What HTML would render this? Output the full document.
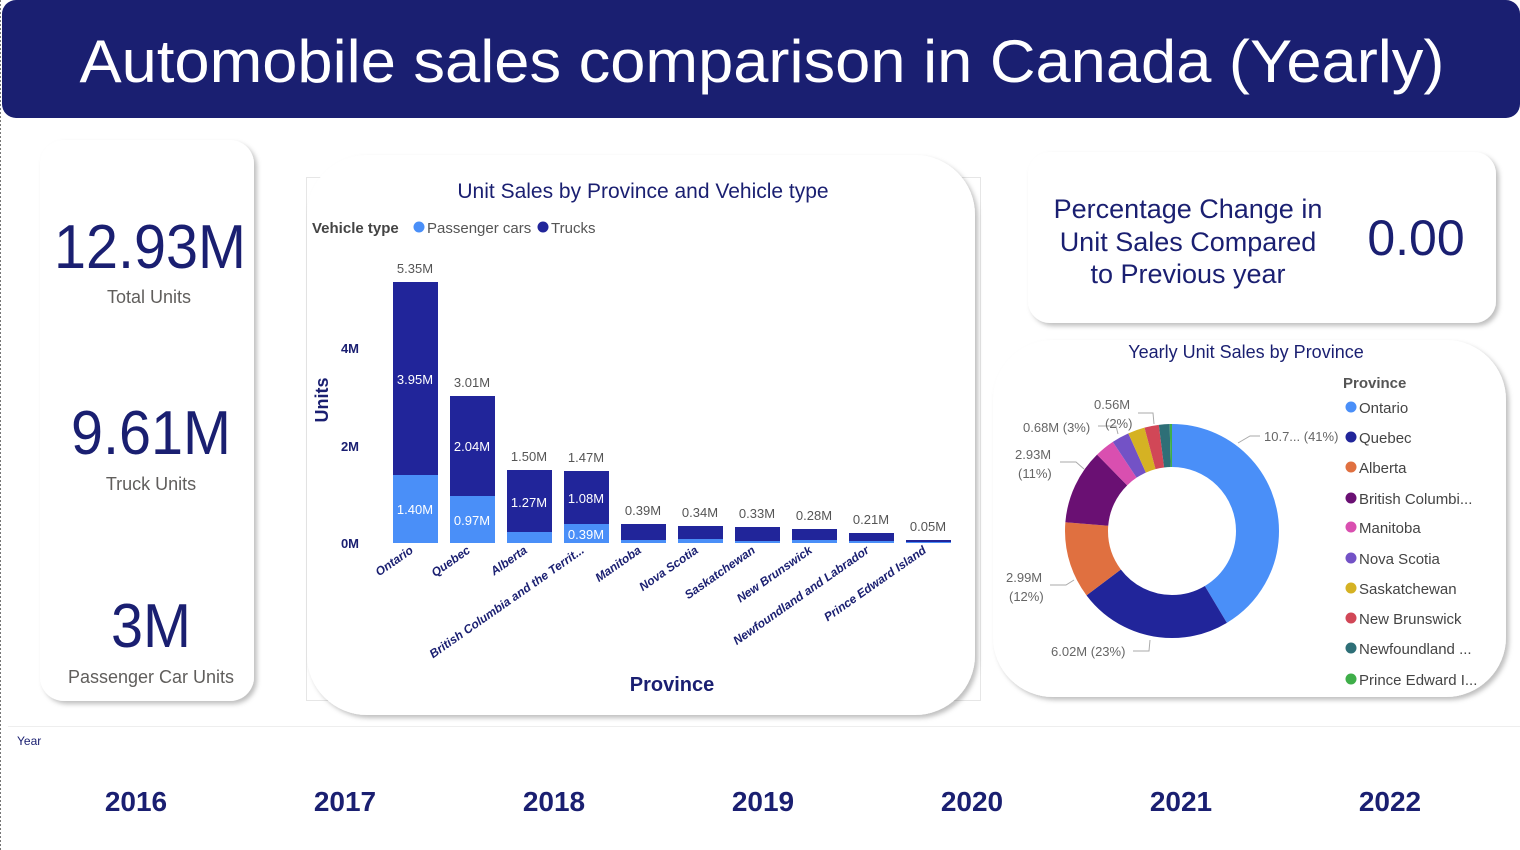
<!DOCTYPE html>
<html><head><meta charset="utf-8"><style>
html,body{margin:0;padding:0;background:#fff;width:1520px;height:850px;overflow:hidden}
svg{display:block;font-family:"Liberation Sans",sans-serif}
</style></head><body>
<svg width="1520" height="850" viewBox="0 0 1520 850">
<defs>
<filter id="sh" x="-10%" y="-10%" width="125%" height="125%"><feDropShadow dx="3" dy="3" stdDeviation="2.5" flood-color="#000" flood-opacity="0.25"/></filter>
</defs>
<line x1="0.5" y1="0" x2="0.5" y2="850" stroke="#777" stroke-dasharray="2,2"/>
<!-- header -->
<rect x="2" y="0" width="1518" height="118" rx="14" fill="#1a1f71"/>
<text x="762" y="82" text-anchor="middle" font-size="60" fill="#fff" textLength="1365" lengthAdjust="spacingAndGlyphs">Automobile sales comparison in Canada (Yearly)</text>

<!-- left card -->
<rect x="40" y="140" width="214" height="561" rx="24" fill="#fff" filter="url(#sh)"/>
<text x="150" y="268" text-anchor="middle" font-size="62" fill="#1a1f71" textLength="192" lengthAdjust="spacingAndGlyphs">12.93M</text>
<text x="149" y="303" text-anchor="middle" font-size="18" fill="#605e5c">Total Units</text>
<text x="151" y="454" text-anchor="middle" font-size="62" fill="#1a1f71" textLength="160" lengthAdjust="spacingAndGlyphs">9.61M</text>
<text x="151" y="490" text-anchor="middle" font-size="18" fill="#605e5c">Truck Units</text>
<text x="151" y="647" text-anchor="middle" font-size="62" fill="#1a1f71" textLength="80" lengthAdjust="spacingAndGlyphs">3M</text>
<text x="151" y="683" text-anchor="middle" font-size="18" fill="#605e5c">Passenger Car Units</text>

<!-- middle card -->
<rect x="306.5" y="177.5" width="674" height="523" fill="none" stroke="#e6e6e6"/>
<rect x="307" y="155" width="668" height="560" rx="60" fill="#fff" filter="url(#sh)"/>
<text x="643" y="198" text-anchor="middle" font-size="21" fill="#1a1f71">Unit Sales by Province and Vehicle type</text>
<text x="312" y="233" font-size="15" font-weight="bold" fill="#444">Vehicle type</text>
<circle cx="419" cy="227" r="5.5" fill="#4a8ff8"/><text x="427" y="233" font-size="15" fill="#555">Passenger cars</text>
<circle cx="543" cy="227" r="5.5" fill="#21259a"/><text x="551" y="233" font-size="15" fill="#555">Trucks</text>
<text x="328" y="400" font-size="18" font-weight="bold" fill="#1a1f71" transform="rotate(-90 328 400)" text-anchor="middle">Units</text>
<g font-size="13" font-weight="bold" fill="#1a1f71" text-anchor="end">
<text x="359" y="353">4M</text><text x="359" y="451">2M</text><text x="359" y="548">0M</text>
</g>
<g id="bars">
<!-- baseline 543, 48.75 px per M -->
<rect x="393" y="282" width="45" height="193" fill="#21259a"/><rect x="393" y="475" width="45" height="68" fill="#4a8ff8"/>
<rect x="450" y="396" width="45" height="100" fill="#21259a"/><rect x="450" y="496" width="45" height="47" fill="#4a8ff8"/>
<rect x="507" y="470" width="45" height="62" fill="#21259a"/><rect x="507" y="532" width="45" height="11" fill="#4a8ff8"/>
<rect x="564" y="471" width="45" height="53" fill="#21259a"/><rect x="564" y="524" width="45" height="19" fill="#4a8ff8"/>
<rect x="621" y="524" width="45" height="16" fill="#21259a"/><rect x="621" y="540" width="45" height="3" fill="#4a8ff8"/>
<rect x="678" y="526" width="45" height="13" fill="#21259a"/><rect x="678" y="539" width="45" height="4" fill="#4a8ff8"/>
<rect x="735" y="527" width="45" height="14" fill="#21259a"/><rect x="735" y="541" width="45" height="2" fill="#4a8ff8"/>
<rect x="792" y="529" width="45" height="11" fill="#21259a"/><rect x="792" y="540" width="45" height="3" fill="#4a8ff8"/>
<rect x="849" y="533" width="45" height="8" fill="#21259a"/><rect x="849" y="541" width="45" height="2" fill="#4a8ff8"/>
<rect x="906" y="540" width="45" height="2" fill="#21259a"/><rect x="906" y="542" width="45" height="1" fill="#4a8ff8"/>
</g>
<g font-size="13" fill="#555" text-anchor="middle">
<text x="415" y="273">5.35M</text><text x="472" y="387">3.01M</text><text x="529" y="461">1.50M</text><text x="586" y="462">1.47M</text>
<text x="643" y="515">0.39M</text><text x="700" y="517">0.34M</text><text x="757" y="518">0.33M</text><text x="814" y="520">0.28M</text><text x="871" y="524">0.21M</text><text x="928" y="531">0.05M</text>
</g>
<g font-size="13" fill="#fff" text-anchor="middle">
<text x="415" y="384">3.95M</text><text x="415" y="514">1.40M</text>
<text x="472" y="451">2.04M</text><text x="472" y="525">0.97M</text>
<text x="529" y="507">1.27M</text>
<text x="586" y="503">1.08M</text><text x="586" y="539">0.39M</text>
</g>
<g font-size="12" font-weight="bold" font-style="italic" fill="#1a1f71" text-anchor="end">
<text transform="translate(414 552) rotate(-35)">Ontario</text>
<text transform="translate(471 552) rotate(-35)">Quebec</text>
<text transform="translate(528 552) rotate(-35)">Alberta</text>
<text transform="translate(585 552) rotate(-35)">British Columbia and the Territ...</text>
<text transform="translate(642 552) rotate(-35)">Manitoba</text>
<text transform="translate(699 552) rotate(-35)">Nova Scotia</text>
<text transform="translate(756 552) rotate(-35)">Saskatchewan</text>
<text transform="translate(813 552) rotate(-35)">New Brunswick</text>
<text transform="translate(870 552) rotate(-35)">Newfoundland and Labrador</text>
<text transform="translate(927 552) rotate(-35)">Prince Edward Island</text>
</g>
<text x="672" y="691" text-anchor="middle" font-size="20" font-weight="bold" fill="#1a1f71">Province</text>

<!-- top-right card -->
<rect x="1028" y="152" width="468" height="171" rx="22" fill="#fff" filter="url(#sh)"/>
<g font-size="27" fill="#1a1f71" text-anchor="middle">
<text x="1188" y="218">Percentage Change in</text>
<text x="1188" y="251">Unit Sales Compared</text>
<text x="1188" y="283">to Previous year</text>
</g>
<text x="1416" y="255" text-anchor="middle" font-size="50" fill="#1a1f71">0.00</text>

<!-- donut card -->
<rect x="993" y="340" width="513" height="357" rx="60" fill="#fff" filter="url(#sh)"/>
<text x="1246" y="358" text-anchor="middle" font-size="18" fill="#1a1f71">Yearly Unit Sales by Province</text>
<g transform="rotate(-90 1172 531)" fill="none" stroke-width="43">
<circle cx="1172" cy="531" r="85.5" stroke="#4a8ff8" stroke-dasharray="222.45 537.21" stroke-dashoffset="0"/>
<circle cx="1172" cy="531" r="85.5" stroke="#21259a" stroke-dasharray="125.16 537.21" stroke-dashoffset="-222.45"/>
<circle cx="1172" cy="531" r="85.5" stroke="#e07040" stroke-dasharray="62.16 537.21" stroke-dashoffset="-347.61"/>
<circle cx="1172" cy="531" r="85.5" stroke="#6a1073" stroke-dasharray="60.91 537.21" stroke-dashoffset="-409.77"/>
<circle cx="1172" cy="531" r="85.5" stroke="#d94fb0" stroke-dasharray="16.22 537.21" stroke-dashoffset="-470.68"/>
<circle cx="1172" cy="531" r="85.5" stroke="#7352c6" stroke-dasharray="14.14 537.21" stroke-dashoffset="-486.90"/>
<circle cx="1172" cy="531" r="85.5" stroke="#d5b223" stroke-dasharray="13.72 537.21" stroke-dashoffset="-501.04"/>
<circle cx="1172" cy="531" r="85.5" stroke="#d14757" stroke-dasharray="11.64 537.21" stroke-dashoffset="-514.76"/>
<circle cx="1172" cy="531" r="85.5" stroke="#2e6f77" stroke-dasharray="8.73 537.21" stroke-dashoffset="-526.40"/>
<circle cx="1172" cy="531" r="85.5" stroke="#3fae49" stroke-dasharray="2.08 537.21" stroke-dashoffset="-535.13"/>
</g>
<g stroke="#aaa" fill="none" stroke-width="1">
<polyline points="1238,443 1250,436 1260,436"/>
<polyline points="1138,413 1153,413 1154,424"/>
<polyline points="1098,426 1116,426 1118,434"/>
<polyline points="1060,462 1076,462 1084,469"/>
<polyline points="1050,585 1066,585 1074,580"/>
<polyline points="1133,651 1149,651 1150,640"/>
</g>
<g font-size="13" fill="#666">
<text x="1264" y="441">10.7... (41%)</text>
<text x="1094" y="409">0.56M</text>
<text x="1105" y="428">(2%)</text>
<text x="1023" y="432">0.68M (3%)</text>
<text x="1015" y="459">2.93M</text><text x="1018" y="478">(11%)</text>
<text x="1006" y="582">2.99M</text><text x="1009" y="601">(12%)</text>
<text x="1051" y="656">6.02M (23%)</text>
</g>
<text x="1343" y="388" font-size="15" font-weight="bold" fill="#555">Province</text>
<g font-size="15" fill="#444">
<circle cx="1351" cy="407" r="5.5" fill="#4a8ff8"/><text x="1359" y="413">Ontario</text>
<circle cx="1351" cy="437" r="5.5" fill="#21259a"/><text x="1359" y="443">Quebec</text>
<circle cx="1351" cy="467" r="5.5" fill="#e07040"/><text x="1359" y="473">Alberta</text>
<circle cx="1351" cy="498" r="5.5" fill="#6a1073"/><text x="1359" y="504">British Columbi...</text>
<circle cx="1351" cy="527" r="5.5" fill="#d94fb0"/><text x="1359" y="533">Manitoba</text>
<circle cx="1351" cy="558" r="5.5" fill="#7352c6"/><text x="1359" y="564">Nova Scotia</text>
<circle cx="1351" cy="588" r="5.5" fill="#d5b223"/><text x="1359" y="594">Saskatchewan</text>
<circle cx="1351" cy="618" r="5.5" fill="#d14757"/><text x="1359" y="624">New Brunswick</text>
<circle cx="1351" cy="648" r="5.5" fill="#2e6f77"/><text x="1359" y="654">Newfoundland ...</text>
<circle cx="1351" cy="679" r="5.5" fill="#3fae49"/><text x="1359" y="685">Prince Edward I...</text>
</g>

<!-- year slicer -->
<line x1="8" y1="726.5" x2="1520" y2="726.5" stroke="#eee"/>
<text x="17" y="745" font-size="12" fill="#1a1f71">Year</text>
<g font-size="28" font-weight="bold" fill="#1a1f71" text-anchor="middle">
<text x="136" y="811">2016</text><text x="345" y="811">2017</text><text x="554" y="811">2018</text><text x="763" y="811">2019</text><text x="972" y="811">2020</text><text x="1181" y="811">2021</text><text x="1390" y="811">2022</text>
</g>
</svg>
</body></html>
